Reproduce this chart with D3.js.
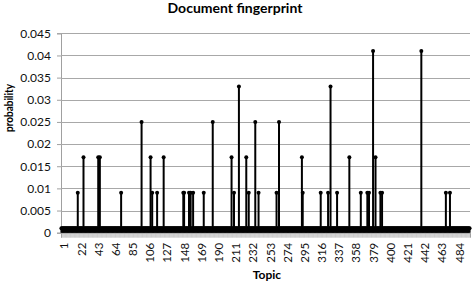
<!DOCTYPE html>
<html>
<head>
<meta charset="utf-8">
<script src="https://cdn.jsdelivr.net/npm/d3@7"></script>
<style>
  body { margin: 0; background: #fff; }
  text { font-family: Lato, "Open Sans", sans-serif; }
</style>
</head>
<body>
<div id="chart"></div>
<script>
// Topics run 1..500, every topic has the small floor probability unless listed below
var topicCount = 500;
var floorProbability = 0.001;
var peakTopics =        [21,    28,    46,    48,    74,    99,    110,   112,   118,   126,
                         150,   151,   157,   159,   162,   175,   186,   209,   212,   218,
                         227,   230,   238,   242,   264,   267,   295,   296,   318,   327,
                         330,   338,   353,   367,   375,   377,   382,   385,   391,   393,
                         441,   471,   476];
var peakProbabilities = [0.009, 0.017, 0.017, 0.017, 0.009, 0.025, 0.017, 0.009, 0.009, 0.017,
                         0.009, 0.009, 0.009, 0.009, 0.009, 0.009, 0.025, 0.017, 0.009, 0.033,
                         0.017, 0.009, 0.025, 0.009, 0.009, 0.025, 0.017, 0.009, 0.009, 0.009,
                         0.033, 0.009, 0.017, 0.009, 0.009, 0.009, 0.041, 0.017, 0.009, 0.009,
                         0.041, 0.009, 0.009];
var yTicks = [0, 0.005, 0.01, 0.015, 0.02, 0.025, 0.03, 0.035, 0.04, 0.045];
var xTickLabels = [1, 22, 43, 64, 85, 106, 127, 148, 169, 190, 211, 232, 253, 274, 295, 316, 337, 358, 379, 400, 421, 442, 463, 484];

var width = 474;
var height = 284;
var plot = { left: 61, right: 470, top: 33.3, bottom: 232.7 };

var topics = d3.range(1, topicCount + 1);
var peakByTopic = {};
peakTopics.forEach(function(t, i) { peakByTopic[t] = peakProbabilities[i]; });
var data = topics.map(function(t) {
    return { topic: t, p: peakByTopic[t] !== undefined ? peakByTopic[t] : floorProbability };
});

var svg = d3.select("#chart").append("svg")
    .attr("width", width)
    .attr("height", height);

var x = d3.scaleBand().domain(topics).range([plot.left, plot.right]);
var y = d3.scaleLinear().domain([0, 0.045]).range([plot.bottom, plot.top]);
function cx(t) { return x(t) + x.bandwidth() / 2; }

// y axis with its labels
var yAxis = svg.append("g")
    .attr("transform", "translate(" + plot.left + ",0)")
    .call(d3.axisLeft(y).tickValues(yTicks).tickSize(4).tickPadding(6)
        .tickFormat(function(d) { return d === 0 ? "0" : d3.format("")(+d.toFixed(3)); }));
yAxis.select(".domain").attr("stroke", "#a0a0a0");
yAxis.selectAll(".tick line").attr("stroke", "#a0a0a0");
yAxis.selectAll("text").style("font-size", "12px").attr("fill", "#111");

// horizontal gridlines
svg.append("g").selectAll("line")
    .data(yTicks.slice(1))
    .enter().append("line")
    .attr("x1", plot.left).attr("x2", plot.right)
    .attr("y1", function(d) { return Math.round(y(d)) + 0.5; })
    .attr("y2", function(d) { return Math.round(y(d)) + 0.5; })
    .attr("stroke", "#a8a8a8")
    .attr("stroke-width", 1);

// category tick marks (dense grey band under the axis)
var xTicks = svg.append("g")
    .attr("transform", "translate(0," + plot.bottom + ")")
    .call(d3.axisBottom(x).tickSize(5).tickFormat(""));
xTicks.select(".domain").attr("stroke", "#a0a0a0");
xTicks.selectAll(".tick line").attr("stroke", "#a6a6a6").attr("stroke-width", 0.5);

// category labels every 21 topics
var xLabels = svg.append("g")
    .attr("transform", "translate(0," + plot.bottom + ")")
    .call(d3.axisBottom(x).tickValues(xTickLabels).tickSize(0));
xLabels.select(".domain").remove();
xLabels.selectAll("text")
    .attr("transform", "rotate(-90)")
    .attr("x", -10)
    .attr("y", 0)
    .attr("dy", "0.6em")
    .style("text-anchor", "end")
    .style("font-size", "11.5px")
    .attr("fill", "#111");

// stems
svg.append("g").selectAll("line")
    .data(data)
    .enter().append("line")
    .attr("x1", function(d) { return cx(d.topic); })
    .attr("x2", function(d) { return cx(d.topic); })
    .attr("y1", y(0))
    .attr("y2", function(d) { return y(d.p); })
    .attr("stroke", "#000")
    .attr("stroke-width", 2);

// markers
svg.append("g").selectAll("circle")
    .data(data)
    .enter().append("circle")
    .attr("cx", function(d) { return cx(d.topic); })
    .attr("cy", function(d) { return y(d.p); })
    .attr("r", 2)
    .attr("fill", "#000");

// titles
svg.append("text")
    .attr("x", 235).attr("y", 13)
    .attr("text-anchor", "middle")
    .style("font-size", "14px").style("font-weight", "bold")
    .text("Document fingerprint");

svg.append("text")
    .attr("x", 267).attr("y", 279)
    .attr("text-anchor", "middle")
    .style("font-size", "12px").style("font-weight", "bold")
    .text("Topic");

// axis title is narrow in the original, squeeze it a bit
svg.append("text")
    .attr("transform", "translate(13,108) rotate(-90)")
    .attr("text-anchor", "middle")
    .attr("textLength", 48)
    .attr("lengthAdjust", "spacingAndGlyphs")
    .style("font-size", "11.5px").style("font-weight", "bold")
    .text("probability");
</script>
</body>
</html>
